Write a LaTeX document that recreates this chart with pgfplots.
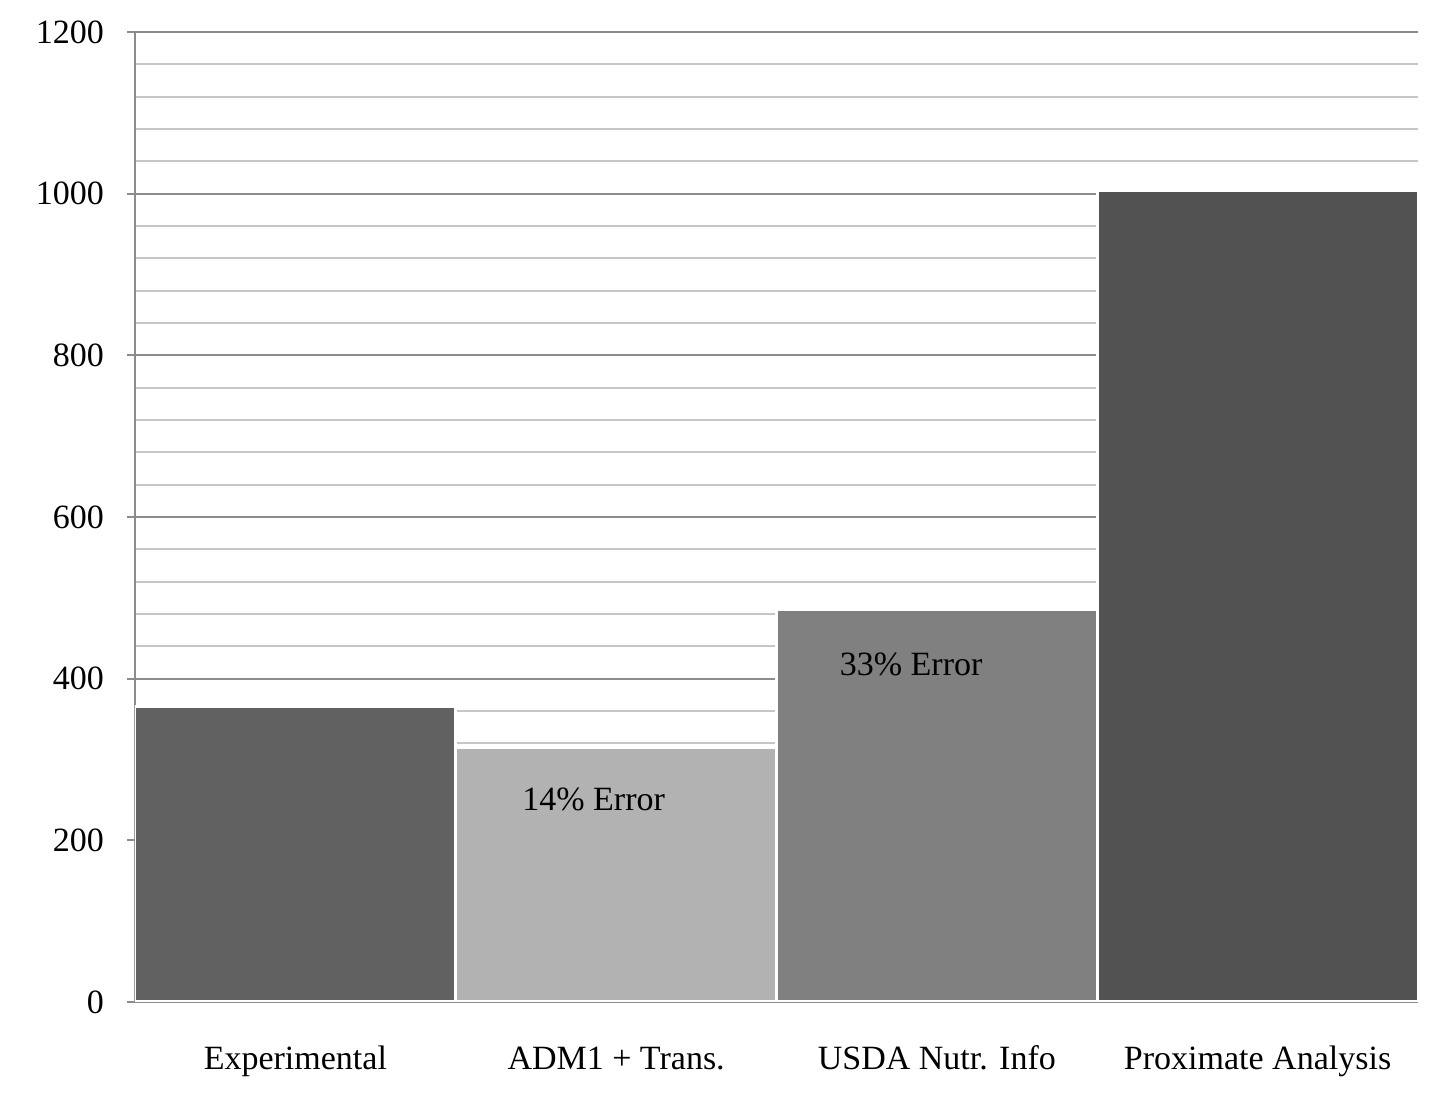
\documentclass[border=0pt]{standalone}
\usepackage{fontspec}
\setmainfont{Liberation Serif}
\usepackage{pgfplots}
\pgfplotsset{compat=1.18}

\definecolor{cExp}{HTML}{616161}
\definecolor{cAdm}{HTML}{B2B2B2}
\definecolor{cUsda}{HTML}{808080}
\definecolor{cProx}{HTML}{525252}

\begin{document}
\begin{tikzpicture}
\begin{axis}[
    at={(0,0)}, anchor=south west,
    scale only axis,
    width=641.5pt, height=485pt,
    xmin=-0.5, xmax=3.5,
    ymin=0, ymax=1200,
    ytick={0,200,...,1200},
    minor y tick num=4,
    xtick={0,1,2,3},
    xticklabels={Experimental, ADM1 + Trans., USDA Nutr. Info, Proximate Analysis},
    axis lines*=left,
    axis line style={-, draw=black!45, line width=1pt},
    ymajorgrids, yminorgrids,
    major grid style={draw=black!45, line width=1pt},
    minor grid style={draw=black!22, line width=1pt},
    xtick style={draw=none},
    ytick style={draw=black!45, line width=1pt},
    minor y tick style={draw=none},
    major tick length=4pt,
    tick align=outside,
    ticklabel style={font=\fontsize{17}{20}\selectfont},
    /pgf/number format/assume math mode=true,
    /pgf/number format/1000 sep={},
    yticklabel style={xshift=-8pt},
    xticklabel style={anchor=base, yshift=-30pt},
    ybar, bar width=1, bar shift=0pt,
    every axis plot/.append style={draw=white, line width=1.5pt},
]
\addplot[fill=cExp] coordinates {(0,365)};
\addplot[fill=cAdm] coordinates {(1,315)};
\addplot[fill=cUsda] coordinates {(2,485)};
\addplot[fill=cProx] coordinates {(3,1004)};
\node[font=\fontsize{17}{20}\selectfont] at (axis cs:0.93,250) {14\% Error};
\node[font=\fontsize{17}{20}\selectfont] at (axis cs:1.92,417) {33\% Error};
\end{axis}
\pgfresetboundingbox
\path[use as bounding box] (-67.5pt,-57.5pt) rectangle (648.5pt,501pt);
\end{tikzpicture}
\end{document}
